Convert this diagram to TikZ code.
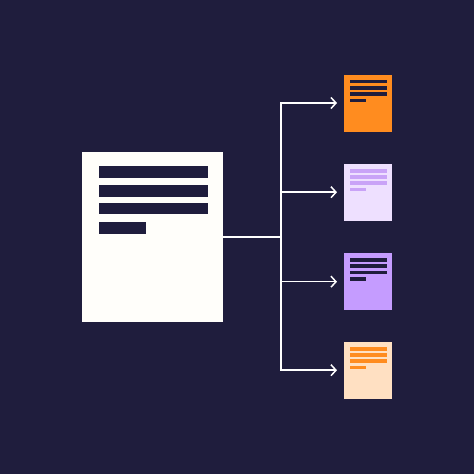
\documentclass[tikz,border=0pt]{standalone}
\usetikzlibrary{arrows.meta}
\definecolor{bg}{HTML}{1F1D3D}
\definecolor{paper}{HTML}{FFFEFA}
\definecolor{orng}{HTML}{FF8C1F}
\definecolor{lav}{HTML}{EEE0FF}
\definecolor{lavline}{HTML}{C9A3F7}
\definecolor{purp}{HTML}{C59CFF}
\definecolor{peach}{HTML}{FFE0C2}
\tikzset{
  bigdoc/.style={fill=paper, minimum width=141pt, minimum height=169.5pt, inner sep=0pt, outer sep=0pt},
  smalldoc/.style={minimum width=48pt, minimum height=57pt, inner sep=0pt, outer sep=0pt},
  link/.style={draw=white, line width=1.5pt, -{Straight Barb[length=5pt,width=11pt,line width=1.5pt]}, shorten >=7pt},
  trunk/.style={draw=white, line width=1.5pt}
}
\newcommand{\smallbars}[2]{%
  \fill[#2] ([xshift=6pt,yshift=-5pt]#1.north west) rectangle ([xshift=42.5pt,yshift=-8.8pt]#1.north west);
  \fill[#2] ([xshift=6pt,yshift=-11.2pt]#1.north west) rectangle ([xshift=42.5pt,yshift=-15pt]#1.north west);
  \fill[#2] ([xshift=6pt,yshift=-17.3pt]#1.north west) rectangle ([xshift=42.5pt,yshift=-21pt]#1.north west);
  \fill[#2] ([xshift=6pt,yshift=-24pt]#1.north west) rectangle ([xshift=22pt,yshift=-27.6pt]#1.north west);
}
\begin{document}
\begin{tikzpicture}[x=1pt,y=-1pt]
\fill[bg] (0,0) rectangle (474,474);
\useasboundingbox (0,0) rectangle (474,474);
\node[bigdoc] (main) at (152.5,237.2) {};
\fill[bg] (99,166) rectangle (208.3,177.7);
\fill[bg] (99,185) rectangle (208.3,196.7);
\fill[bg] (99,202.7) rectangle (208.3,214.3);
\fill[bg] (99,222.3) rectangle (146.3,234);
\node[smalldoc, fill=orng] (d1) at (368,103) {};
\node[smalldoc, fill=lav] (d2) at (368,192.2) {};
\node[smalldoc, fill=purp] (d3) at (368,281.7) {};
\node[smalldoc, fill=peach] (d4) at (368,370.2) {};
\smallbars{d1}{bg}
\smallbars{d2}{lavline}
\smallbars{d3}{bg}
\smallbars{d4}{orng}
\coordinate (hub) at (281,237.2);
\draw[trunk] (main.east) -- (hub);
\draw[link] (hub) |- (d1.west);
\draw[link] (hub) |- (d2.west);
\draw[link] (hub) |- (d3.west);
\draw[link] (hub) |- (d4.west);
\end{tikzpicture}
\end{document}
